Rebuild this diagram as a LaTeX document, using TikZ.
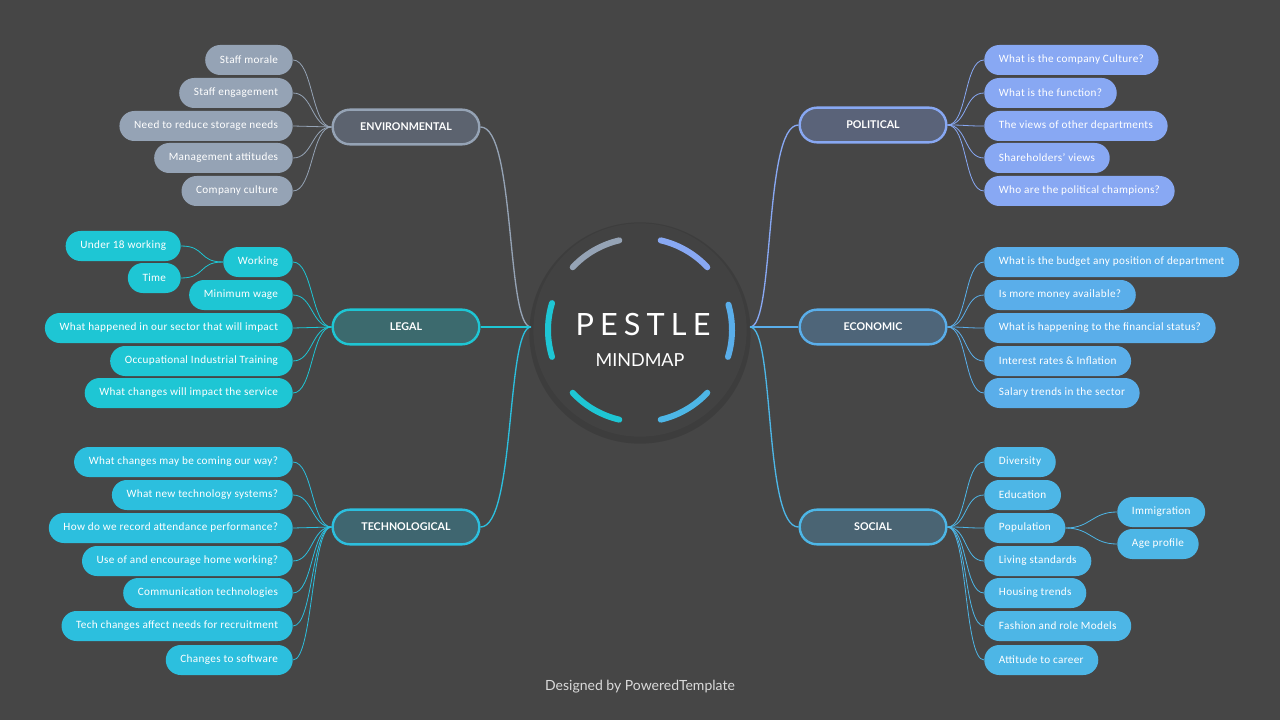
\documentclass[tikz,border=0pt]{standalone}
\usepackage{fontspec}
\setmainfont{Carlito}
\newfontfamily\latofont{Lato}
\begin{document}
\begin{tikzpicture}[x=0.75pt,y=-0.75pt]
\definecolor{bgc}{HTML}{464646}
\definecolor{cirf}{HTML}{424242}
\definecolor{envc}{HTML}{95A3B5}\definecolor{envf}{HTML}{5C636F}
\definecolor{polc}{HTML}{88A8F3}\definecolor{polf}{HTML}{5A6379}
\definecolor{ecoc}{HTML}{5AAEEA}\definecolor{ecof}{HTML}{4E6579}
\definecolor{socc}{HTML}{4DB6E6}\definecolor{socf}{HTML}{4A6473}
\definecolor{legc}{HTML}{1EC6D4}\definecolor{legf}{HTML}{3C6A6E}
\definecolor{tecc}{HTML}{2CBFDE}\definecolor{tecf}{HTML}{3F6670}
\tikzset{
 leaf/.style={rectangle,rounded corners=11.25pt,minimum height=22.5pt,inner xsep=11pt,text=white,font=\fontsize{8.4}{10}\selectfont\addfontfeature{LetterSpace=3}},
 lleaf/.style={leaf,anchor=east},
 rleaf/.style={leaf,anchor=west},
 main/.style={rectangle,rounded corners=13pt,minimum width=110pt,minimum height=26pt,line width=1.8pt,text=white,font=\latofont\bfseries\fontsize{8}{10}\selectfont},
 lk/.style={line width=0.6pt}
}
\fill[bgc] (0,0) rectangle (1280,720);
% center
\fill[black,opacity=0.12] (640,333) circle[radius=83pt];
\fill[cirf] (640,330) circle[radius=80pt];
\node[coordinate] (cl) at (531,327) {};
\node[coordinate] (cr) at (750,327) {};
\begin{scope}[shift={(640,330)},x=0.75pt,y=0.75pt,line width=4.5pt,line cap=round]
\draw[envc] (103:92) arc[start angle=103,end angle=137,radius=92];
\draw[polc] (43:92) arc[start angle=43,end angle=77,radius=92];
\draw[ecoc] (-17:92) arc[start angle=-17,end angle=16,radius=92];
\draw[legc] (163:92) arc[start angle=163,end angle=197,radius=92];
\draw[legc] (223:92) arc[start angle=223,end angle=257,radius=92];
\draw[socc] (283:92) arc[start angle=283,end angle=317,radius=92];
\end{scope}
\node[text=white,font=\latofont\fontsize{23}{26}\selectfont\addfontfeature{LetterSpace=20}] (pt) at (643,325) {PESTLE};
\node[text=white,font=\latofont\fontsize{13.5}{15}\selectfont] (mm) at (640,360) {MINDMAP};
% main nodes
\node[main,draw=envc,fill=envf] (env) at (406,127) {ENVIRONMENTAL};
\node[main,draw=legc,fill=legf] (leg) at (406,327) {LEGAL};
\node[main,draw=tecc,fill=tecf] (tec) at (406,527) {TECHNOLOGICAL};
\node[main,draw=polc,fill=polf] (pol) at (873,125) {POLITICAL};
\node[main,draw=ecoc,fill=ecof] (eco) at (873,327) {ECONOMIC};
\node[main,draw=socc,fill=socf] (soc) at (873,527) {SOCIAL};
\draw[lk,envc,line width=1pt] (env.east) .. controls +(35,0) and +(-25,0) .. (cl);
\draw[lk,legc,line width=1pt] (leg.east) -- (cl);
\draw[lk,tecc,line width=1pt] (tec.east) .. controls +(35,0) and +(-25,0) .. (cl);
\draw[lk,polc,line width=1pt] (pol.west) .. controls +(-35,0) and +(25,0) .. (cr);
\draw[lk,ecoc,line width=1pt] (eco.west) -- (cr);
\draw[lk,socc,line width=1pt] (soc.west) .. controls +(-35,0) and +(25,0) .. (cr);
% left leaves
\foreach \n/\y/\t in {e1/60/Staff morale,e2/93/Staff engagement,e3/126/Need to reduce storage needs,e4/158/Management attitudes,e5/191/Company culture}{
 \node[lleaf,fill=envc] (\n) at (293,\y) {\t};
 \draw[lk,envc] (\n.east) .. controls +(20,0) and +(-20,0) .. (env.west);}
\foreach \n/\y/\t in {l1/262/Working,l2/295/Minimum wage,l3/328/What happened in our sector that will impact,l4/361/Occupational Industrial Training,l5/393/What changes will impact the service}{
 \node[lleaf,fill=legc] (\n) at (293,\y) {\t};
 \draw[lk,legc] (\n.east) .. controls +(20,0) and +(-20,0) .. (leg.west);}
\node[lleaf,fill=legc] (l6) at (181,246) {Under 18 working};
\node[lleaf,fill=legc] (l7) at (181,278) {Time};
\draw[lk,legc] (l6.east) .. controls +(25,0) and +(-25,0) .. (l1.west);
\draw[lk,legc] (l7.east) .. controls +(25,0) and +(-25,0) .. (l1.west);
\foreach \n/\y/\t in {t1/462/What changes may be coming our way?,t2/495/What new technology systems?,t3/528/How do we record attendance performance?,t4/561/Use of and encourage home working?,t5/593/Communication technologies,t6/626/Tech changes affect needs for recruitment,t7/660/Changes to software}{
 \node[lleaf,fill=tecc] (\n) at (293,\y) {\t};
 \draw[lk,tecc] (\n.east) .. controls +(20,0) and +(-20,0) .. (tec.west);}
% right leaves
\foreach \n/\y/\t in {p1/60/What is the company Culture?,p2/93/What is the function?,p3/126/The views of other departments,p4/158/Shareholders' views,p5/191/Who are the political champions?}{
 \node[rleaf,fill=polc] (\n) at (984,\y) {\t};
 \draw[lk,polc] (\n.west) .. controls +(-20,0) and +(20,0) .. (pol.east);}
\foreach \n/\y/\t in {c1/262/What is the budget any position of department,c2/295/Is more money available?,c3/328/What is happening to the financial status?,c4/361/Interest rates \& Inflation,c5/393/Salary trends in the sector}{
 \node[rleaf,fill=ecoc] (\n) at (984,\y) {\t};
 \draw[lk,ecoc] (\n.west) .. controls +(-20,0) and +(20,0) .. (eco.east);}
\foreach \n/\y/\t in {s1/462/Diversity,s2/495/Education,s3/528/Population,s4/561/Living standards,s5/593/Housing trends,s6/626/Fashion and role Models,s7/660/Attitude to career}{
 \node[rleaf,fill=socc] (\n) at (984,\y) {\t};
 \draw[lk,socc] (\n.west) .. controls +(-20,0) and +(20,0) .. (soc.east);}
\node[rleaf,fill=socc] (s8) at (1117,512) {Immigration};
\node[rleaf,fill=socc] (s9) at (1117,544) {Age profile};
\draw[lk,socc] (s3.east) .. controls +(25,0) and +(-25,0) .. (s8.west);
\draw[lk,socc] (s3.east) .. controls +(25,0) and +(-25,0) .. (s9.west);
\node[text=white!80!bgc,font=\latofont\fontsize{10.5}{12}\selectfont] (ft) at (640,687) {Designed by PoweredTemplate};
\end{tikzpicture}
\end{document}
